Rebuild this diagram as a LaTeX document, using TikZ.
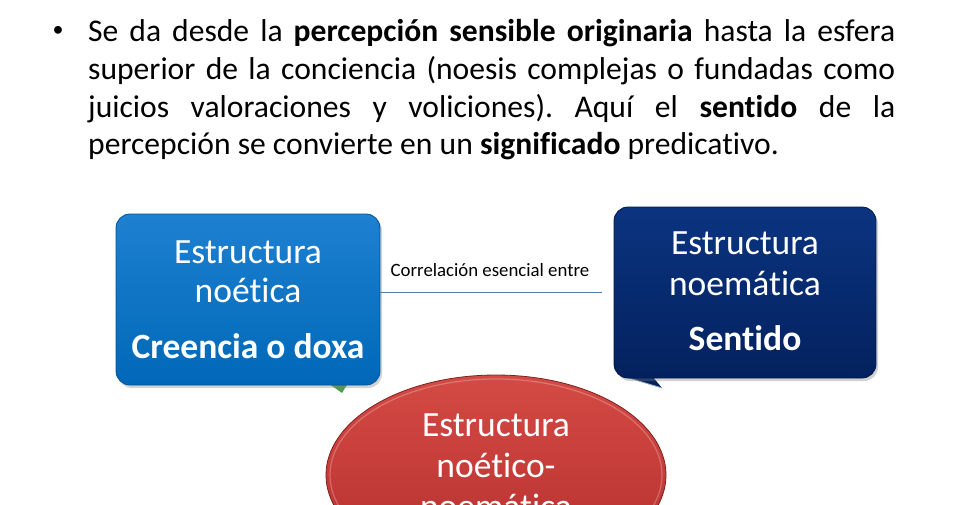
\documentclass[tikz,border=0pt]{standalone}
\usepackage{fontspec}
\setmainfont[Ligatures=NoCommon]{Carlito}
\usetikzlibrary{shadows}
\definecolor{bluetop}{HTML}{1E80D0}
\definecolor{bluebot}{HTML}{0068B8}
\definecolor{navytop}{HTML}{0B3480}
\definecolor{navybot}{HTML}{03215E}
\definecolor{redtop}{HTML}{D44A44}
\definecolor{redbot}{HTML}{B52E2E}
\definecolor{linecol}{HTML}{5A7FA8}
\tikzset{
  bodyline/.style={anchor=base west, inner sep=0pt, font=\fontsize{31.6}{38}\selectfont},
  boxtext/.style={text=white, font=\fontsize{35.5}{38}\selectfont, align=center, inner sep=0pt},
  boldtext/.style={text=white, font=\bfseries\fontsize{35.5}{38}\selectfont, inner sep=0pt},
  bluebox/.style={rounded corners=14pt, top color=bluetop, bottom color=bluebot, draw=bluebot!80!black, line width=0.8pt,
     drop shadow={shadow xshift=2pt, shadow yshift=-3pt, opacity=0.35}},
  navybox/.style={rounded corners=14pt, top color=navytop, bottom color=navybot, draw=navybot!80!black, line width=0.8pt,
     drop shadow={shadow xshift=2pt, shadow yshift=-3pt, opacity=0.35}},
  redell/.style={top color=redtop, bottom color=redbot, draw=redbot!70!black, line width=0.8pt},
}
\begin{document}
\frenchspacing
\begin{tikzpicture}[x=1pt,y=-1pt]
\useasboundingbox (0,0) rectangle (960,504);
\clip (0,0) rectangle (960,504);
\fill[white] (0,0) rectangle (960,504);

% bullet text
\node[anchor=center, inner sep=0pt, font=\fontsize{22}{22}\selectfont] (bul) at (58,31) {\textbullet};
\node[bodyline] (l1) at (88,41) {\hbox to 807pt{Se da desde la \textbf{percepción sensible originaria} hasta la esfera}};
\node[bodyline] (l2) at (88,79) {\hbox to 807pt{superior de la conciencia (noesis complejas o fundadas como}};
\node[bodyline] (l3) at (88,117) {\hbox to 807pt{juicios valoraciones y voliciones). Aquí el \textbf{sentido} de la}};
\node[bodyline] (l4) at (88,154.5) {percepción se convierte en un \textbf{significado} predicativo.};

% tails
\fill[green!45!black!70!white] (328,383) -- (342,393) -- (348,383) -- cycle;
\fill[navybot] (622,376) -- (662,388) -- (652,376) -- cycle;
\draw[linecol!60, line width=0.8pt] (622,376) -- (662,388);

% left box
\path[bluebox] (116,214) rectangle (380,385);
\node[boxtext] (lt1) at (248,252) {Estructura};
\node[boxtext] (lt2) at (248,290) {noética};
\node[boldtext] (lbold) at (248,346) {Creencia o doxa};

% right box
\path[navybox] (614,207) rectangle (876,378);
\node[boxtext] (rt1) at (745,243) {Estructura};
\node[boxtext] (rt2) at (745,283) {noemática};
\node[boldtext] (rbold) at (745,338) {Sentido};

% connector
\coordinate (ca) at (380,292);
\coordinate (cb) at (602,292);
\draw[linecol, line width=0.7pt] (ca) -- (cb);
\node[font=\fontsize{18.8}{20}\selectfont, inner sep=0pt] (clab) at (490,270) {Correlación esencial entre};

% red ellipse
\path[redell] (496,475) ellipse [x radius=170, y radius=100];
\draw[white, opacity=0.25, line width=1.2pt] (496,475) ellipse [x radius=166, y radius=96];
\node[boxtext] (et1) at (496,425) {Estructura};
\node[boxtext] (et2) at (496,465) {noético-};
\node[boxtext] (et3) at (496,506) {noemática};
\end{tikzpicture}
\end{document}
